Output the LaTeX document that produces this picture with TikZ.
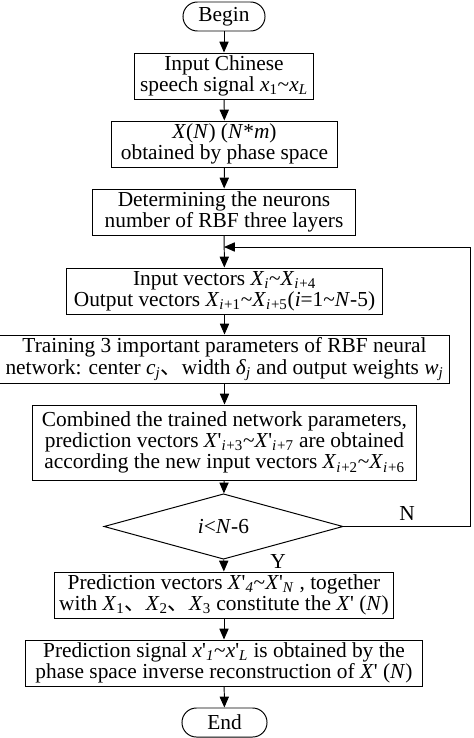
\documentclass[tikz,border=0pt]{standalone}
\usepackage{fontspec}
\setmainfont{Liberation Serif}
\newfontfamily\cjk{Noto Sans CJK SC}
\usetikzlibrary{arrows.meta,shapes.geometric}
\newcommand{\sbi}[1]{\textsubscript{\textit{#1}}}
\newcommand{\pr}{\textquotesingle}
\begin{document}
\begin{tikzpicture}[x=0.025cm,y=-0.025cm,line width=0.7pt,
 box/.style={draw,rectangle,inner sep=0pt,minimum height=1.15cm,align=center,font=\fontsize{15.2}{15.2}\selectfont},
 term/.style={box,rounded corners=0.36cm,minimum height=0.725cm},
 arr/.style={-{Triangle[length=0.27cm,width=0.23cm]}}]
 \useasboundingbox (0,0) rectangle (474,738);
 \node[term,minimum width=2.05cm] (begin) at (224,16.5) {Begin};
 \node[box,minimum width=4.45cm] (input) at (224,76) {Input Chinese\\speech signal \textit{x}\textsubscript{1}\textasciitilde\textit{x}\sbi{L}};
 \node[box,minimum width=5.625cm] (phase) at (224.5,144) {\textit{X}(\textit{N}) (\textit{N}*\textit{m})\\obtained by phase space};
 \node[box,minimum width=6.55cm] (neurons) at (224,212) {Determining the neurons\\number of RBF three layers};
 \node[box,minimum width=7.875cm] (vectors) at (224.5,291) {Input vectors \textit{X}\sbi{i}\textasciitilde\textit{X}\sbi{i}\textsubscript{+4}\\Output vectors \textit{X}\sbi{i}\textsubscript{+1}\textasciitilde\textit{X}\sbi{i}\textsubscript{+5}(\textit{i}=1\textasciitilde\textit{N}-5)};
 \node[box,minimum width=11.225cm,minimum height=1.2cm] (training) at (224.5,359) {Training 3 important parameters of RBF neural\\network: center \textit{c}\sbi{j}{\cjk 、}width \textit{δ}\sbi{j} and output weights \textit{w}\sbi{j}};
 \node[box,minimum width=9.575cm,minimum height=1.875cm] (combined) at (224.5,442.5) {Combined the trained network parameters,\\prediction vectors \textit{X}\pr\sbi{i}\textsubscript{+3}\textasciitilde\textit{X}\pr\sbi{i}\textsubscript{+7} are obtained\\according the new input vectors \textit{X}\sbi{i}\textsubscript{+2}\textasciitilde\textit{X}\sbi{i}\textsubscript{+6}};
 \node[draw,diamond,inner sep=0pt,minimum width=5.975cm,minimum height=1.175cm,font=\fontsize{15.2}{15.2}\selectfont] (judge) at (223.5,526.5) {\textit{i}<\textit{N}-6};
 \node[box,minimum width=8.45cm] (predict) at (224,595) {Prediction vectors \textit{X}\pr\sbi{4}\textasciitilde\textit{X}\pr\sbi{N} , together\\with \textit{X}\textsubscript{1}{\cjk 、}\textit{X}\textsubscript{2}{\cjk 、}\textit{X}\textsubscript{3} constitute the \textit{X}\pr\ (\textit{N})};
 \node[box,minimum width=9.9cm] (signal) at (224,663) {Prediction signal \textit{x}\pr\sbi{1}\textasciitilde\textit{x}\pr\sbi{L} is obtained by the\\phase space inverse reconstruction of \textit{X}\pr\ (\textit{N})};
 \node[term,minimum width=2.125cm] (end) at (224.5,722.5) {End};
 \node[font=\fontsize{15.2}{15.2}\selectfont] (no) at (407,513) {N};
 \node[font=\fontsize{15.2}{15.2}\selectfont] (yes) at (278,561) {Y};
 \coordinate (loop) at (224,247);
 \coordinate (c1) at (470,526.5);
 \coordinate (c2) at (470,247);
 \draw[arr] (begin) -- (input);
 \draw[arr] (input) -- (phase);
 \draw[arr] (phase) -- (neurons);
 \draw[arr] (neurons) -- (vectors);
 \draw[arr] (vectors) -- (training);
 \draw[arr] (training) -- (combined);
 \draw[arr] (combined) -- (judge);
 \draw[arr] (judge) -- (predict);
 \draw[arr] (predict) -- (signal);
 \draw[arr] (signal) -- (end);
 \draw[arr] (judge.east) -- (c1) -- (c2) -- (loop);
\end{tikzpicture}
\end{document}
